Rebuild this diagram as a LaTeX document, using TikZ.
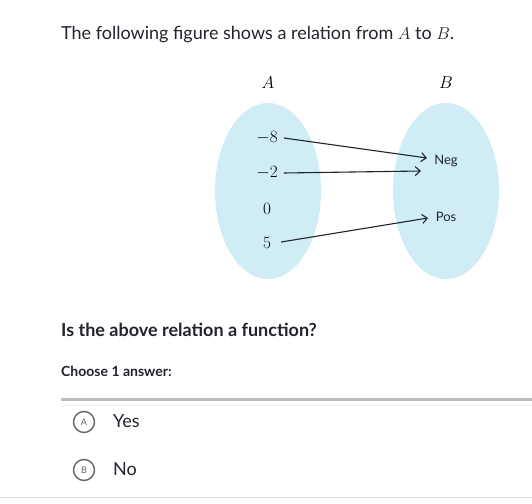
\documentclass[tikz,border=0pt]{standalone}
\usepackage[no-math]{fontspec}
\setmainfont{Lato}
\usetikzlibrary{arrows.meta}
\definecolor{setblue}{HTML}{D0EDF6}
\definecolor{ink}{HTML}{21242C}
\definecolor{rulegray}{HTML}{BABEC2}
\definecolor{circgray}{HTML}{626569}
\tikzset{
  setfill/.style={fill=setblue, draw=none},
  elem/.style={inner sep=0pt, font=\fontsize{16.5bp}{18bp}\selectfont},
  outel/.style={inner sep=0pt, font=\fontsize{13bp}{15bp}\selectfont},
  maparrow/.style={-{Straight Barb[length=5bp,width=9bp]}, line width=1.1bp, draw=ink},
  choicecirc/.style={circle, draw=circgray, line width=1.4bp, minimum size=21bp, inner sep=0pt, text=circgray, font=\fontsize{9bp}{10bp}\selectfont},
  choicetext/.style={anchor=base west, inner sep=0pt, text=ink, font=\fontsize{18bp}{20bp}\selectfont},
}
\begin{document}
\begin{tikzpicture}[x=1bp,y=-1bp]
\useasboundingbox (0,0) rectangle (532,504);
\fill[white] (0,0) rectangle (532,504);
% title
\node[anchor=base west, inner sep=0pt, text=ink, font=\fontsize{18bp}{20bp}\selectfont] (title) at (61,40) {The following figure shows a relation from $A$ to $B$.};
% sets
\fill[setfill] (268,191) ellipse [x radius=53, y radius=88];
\fill[setfill] (446,191) ellipse [x radius=53, y radius=88];
\node[elem] (labA) at (268,83) {$A$};
\node[elem] (labB) at (446,83) {$B$};
\node[elem] (m8) at (267,138) {$-8$};
\node[elem] (m2) at (267,173) {$-2$};
\node[elem] (z0) at (267,209) {$0$};
\node[elem] (p5) at (267,243) {$5$};
\node[outel, text=ink] (neg) at (446,161) {Neg};
\node[outel, text=ink] (pos) at (446,217) {Pos};
\coordinate (negin1) at (427,158);
\coordinate (negin2) at (421,171);
\coordinate (posin) at (428,218);
\draw[maparrow] ([xshift=6bp]m8.east) -- (negin1);
\draw[maparrow] ([xshift=6bp]m2.east) -- (negin2);
\draw[maparrow] ([xshift=10bp,yshift=1bp]p5.east) -- (posin);
% question
\node[anchor=base west, inner sep=0pt, text=ink, font=\fontsize{18bp}{20bp}\bfseries\selectfont] (q) at (61,336) {Is the above relation a function?};
\node[anchor=base west, inner sep=0pt, text=ink, font=\fontsize{14bp}{16bp}\bfseries\selectfont] (choose) at (61,376) {Choose 1 answer:};
\draw[rulegray, line width=3bp] (61,399) -- (532,399);
\draw[black!7, line width=0.8bp] (61,405) -- (532,405);
\node[choicecirc] (ca) at (84,422) {A};
\node[choicetext] (yes) at (113,427) {Yes};
\node[choicecirc] (cb) at (84,470) {B};
\node[choicetext] (no) at (113,475) {No};
\draw[black!14, line width=1bp] (0,497) -- (532,497);
\end{tikzpicture}
\end{document}
